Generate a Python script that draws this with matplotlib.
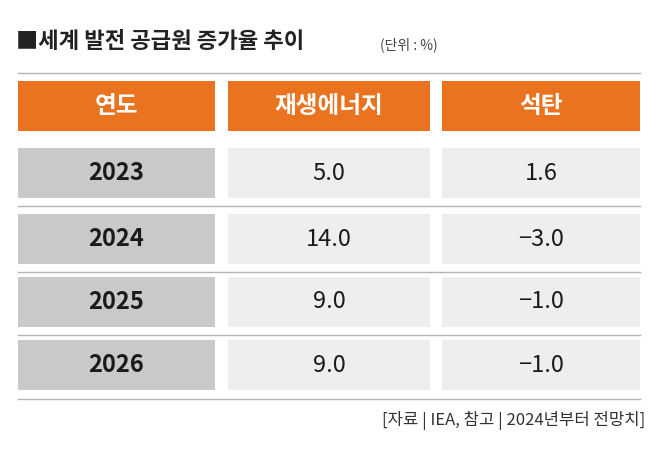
# Table chart: 세계 발전 공급원 증가율 추이

import matplotlib.pyplot as plt
from matplotlib.patches import Rectangle

plt.rcParams['font.family'] = ['Noto Sans CJK JP', 'Noto Sans CJK KR',
                               'Noto Sans CJK SC', 'DejaVu Sans']

title = '■세계 발전 공급원 증가율 추이'
unit = '(단위 : %)'
headers = ['연도', '재생에너지', '석탄']
years = ['2023', '2024', '2025', '2026']
renewable = [5.0, 14.0, 9.0, 9.0]
coal = [1.6, -3.0, -1.0, -1.0]
source = '[자료 | IEA, 참고 | 2024년부터 전망치]'

ORANGE = '#ea7320'
YEAR_BG = '#c9c9c9'
CELL_BG = '#eeeeee'
LINE = '#b5b5b5'

fig = plt.figure(figsize=(6.58, 4.49), dpi=100)
ax = fig.add_axes([0, 0, 1, 1])
ax.set_xlim(0, 658)
ax.set_ylim(449, 0)
ax.axis('off')

col_x = [18, 228, 442]
col_w = [197, 202, 198]
row_h = 50

def fmt(v):
  return ('\u2212%.1f' % -v) if v < 0 else '%.1f' % v

ax.text(16, 42, title, fontsize=16, fontweight='bold', va='center', color='#222222')
ax.text(380, 45, unit, fontsize=10, va='center', color='#444444')
ax.plot([18, 640], [73, 73], color=LINE, lw=1)

# header
for x, w, h in zip(col_x, col_w, headers):
  ax.add_patch(Rectangle((x, 81), w, row_h, color=ORANGE, lw=0))
  ax.text(x + w / 2, 81 + row_h / 2, h, fontsize=17, fontweight='bold',
          color='white', ha='center', va='center')

# body rows
row_tops = [148, 214, 277, 340]
for i, top in enumerate(row_tops):
  vals = [years[i], fmt(renewable[i]), fmt(coal[i])]
  for j, (x, w) in enumerate(zip(col_x, col_w)):
    ax.add_patch(Rectangle((x, top), w, row_h, color=YEAR_BG if j == 0 else CELL_BG, lw=0))
    ax.text(x + w / 2, top + row_h / 2, vals[j], fontsize=17,
            fontweight='bold' if j == 0 else 'normal',
            color='#1a1a1a', ha='center', va='center')
  sep = top + row_h + 8 if i < len(row_tops) - 1 else 399
  ax.plot([18, 640], [sep, sep], color=LINE, lw=1)

ax.text(645, 421, source, fontsize=12, ha='right', va='center', color='#333333')

plt.savefig('out.png', dpi=100)
